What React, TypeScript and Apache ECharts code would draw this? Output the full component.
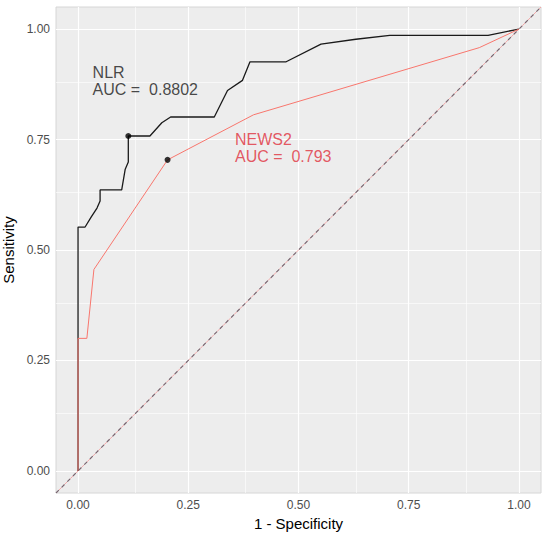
import React, { useEffect, useRef } from "react";
import * as echarts from "echarts";

const nlrFpr = [0, 0, 0.016, 0.03, 0.043, 0.05, 0.05, 0.099, 0.107, 0.114, 0.114, 0.163, 0.19, 0.21, 0.309, 0.339, 0.373, 0.39, 0.472, 0.551, 0.63, 0.707, 0.93, 1.0];
const nlrTpr = [0, 0.552, 0.552, 0.575, 0.595, 0.611, 0.636, 0.636, 0.683, 0.699, 0.758, 0.758, 0.788, 0.801, 0.801, 0.861, 0.884, 0.926, 0.926, 0.966, 0.977, 0.986, 0.986, 1.0];
const newsFpr = [0, 0, 0.02, 0.036, 0.203, 0.398, 0.91, 1.0];
const newsTpr = [0, 0.3, 0.3, 0.456, 0.704, 0.806, 0.958, 1.0];
const cutPoints = [[0.114, 0.758], [0.203, 0.704]];
const diagonal = [[-0.05, -0.05], [1.05, 1.05]];
const majorTicks = [0, 0.25, 0.5, 0.75, 1];
const minorTicks = [0.125, 0.375, 0.625, 0.875];
const nlrLabel = { pos: [0.033, 0.882], text: "NLR\nAUC =  0.8802" };
const newsLabel = { pos: [0.356, 0.731], text: "NEWS2\nAUC =  0.793" };

const FONT = "Liberation Sans, Arial, sans-serif";

export default function App() {
  const ref = useRef<HTMLDivElement>(null);
  useEffect(() => {
    document.body.style.margin = "0";
    const chart = echarts.init(ref.current!, undefined, { renderer: "svg" });
    const gridLines = [
      ...majorTicks.map((v) => ({ xAxis: v, lineStyle: { width: 1.2 } })),
      ...minorTicks.map((v) => ({ xAxis: v, lineStyle: { width: 0.6 } })),
      ...majorTicks.map((v) => ({ yAxis: v, lineStyle: { width: 1.2 } })),
      ...minorTicks.map((v) => ({ yAxis: v, lineStyle: { width: 0.6 } })),
    ];
    const axisCommon = {
      type: "value" as const,
      min: -0.05,
      max: 1.05,
      splitLine: { show: false },
      axisLine: { show: false },
      axisTick: { show: true, customValues: majorTicks, length: 3, lineStyle: { color: "#333333", width: 1 } },
      axisLabel: {
        customValues: majorTicks,
        formatter: (v: number) => v.toFixed(2),
        color: "#4d4d4d",
        fontSize: 12,
        fontFamily: FONT,
        margin: 6,
      },
      nameLocation: "middle" as const,
      nameTextStyle: { color: "#000000", fontSize: 15, fontFamily: FONT },
    };
    chart.setOption({
      animation: false,
      grid: {
        left: 56,
        top: 7,
        right: 9,
        bottom: 47,
        containLabel: false,
        outerBoundsMode: "none",
        show: true,
        backgroundColor: "#EDEDED",
        borderColor: "#d6d6d6",
        borderWidth: 1,
      },
      xAxis: { ...axisCommon, name: "1 - Specificity", nameGap: 22 },
      yAxis: { ...axisCommon, name: "Sensitivity", nameGap: 33 },
      series: [
        {
          type: "line",
          data: [],
          silent: true,
          z: 1,
          markLine: {
            silent: true,
            symbol: "none",
            z: 1,
            label: { show: false },
            lineStyle: { color: "#ffffff", type: "solid" },
            data: gridLines,
          },
        },
        {
          type: "line",
          data: diagonal,
          z: 3,
          showSymbol: false,
          lineStyle: { color: "#f2a8a8", width: 1, type: [4, 4], dashOffset: 4 },
          silent: true,
        },
        {
          type: "line",
          data: diagonal,
          z: 3,
          showSymbol: false,
          lineStyle: { color: "#7a6670", width: 1.2, type: [4, 4] },
          silent: true,
        },
        {
          type: "line",
          data: nlrFpr.map((x, i) => [x, nlrTpr[i]]),
          z: 4,
          showSymbol: false,
          lineStyle: { color: "#1a1a1a", width: 1.3 },
          silent: true,
        },
        {
          type: "line",
          data: newsFpr.map((x, i) => [x, newsTpr[i]]),
          z: 5,
          showSymbol: false,
          lineStyle: { color: "#F8766D", width: 1 },
          silent: true,
        },
        {
          type: "scatter",
          data: cutPoints,
          z: 6,
          symbolSize: 6,
          itemStyle: { color: "#000000" },
          silent: true,
        },
        {
          type: "scatter",
          symbolSize: 0,
          z: 7,
          silent: true,
          data: [
            { value: nlrLabel.pos, label: { formatter: nlrLabel.text, color: "#1a1a1a" } },
            { value: newsLabel.pos, label: { formatter: newsLabel.text, color: "#E0303C" } },
          ],
          label: {
            show: true,
            position: "right",
            distance: 0,
            align: "left",
            verticalAlign: "middle",
            fontSize: 16,
            lineHeight: 17,
            fontFamily: FONT,
          },
        },
      ],
    });
    return () => chart.dispose();
  }, []);
  return <div ref={ref} style={{ position: "absolute", left: 0, top: 0, width: 550, height: 540 }} />;
}
